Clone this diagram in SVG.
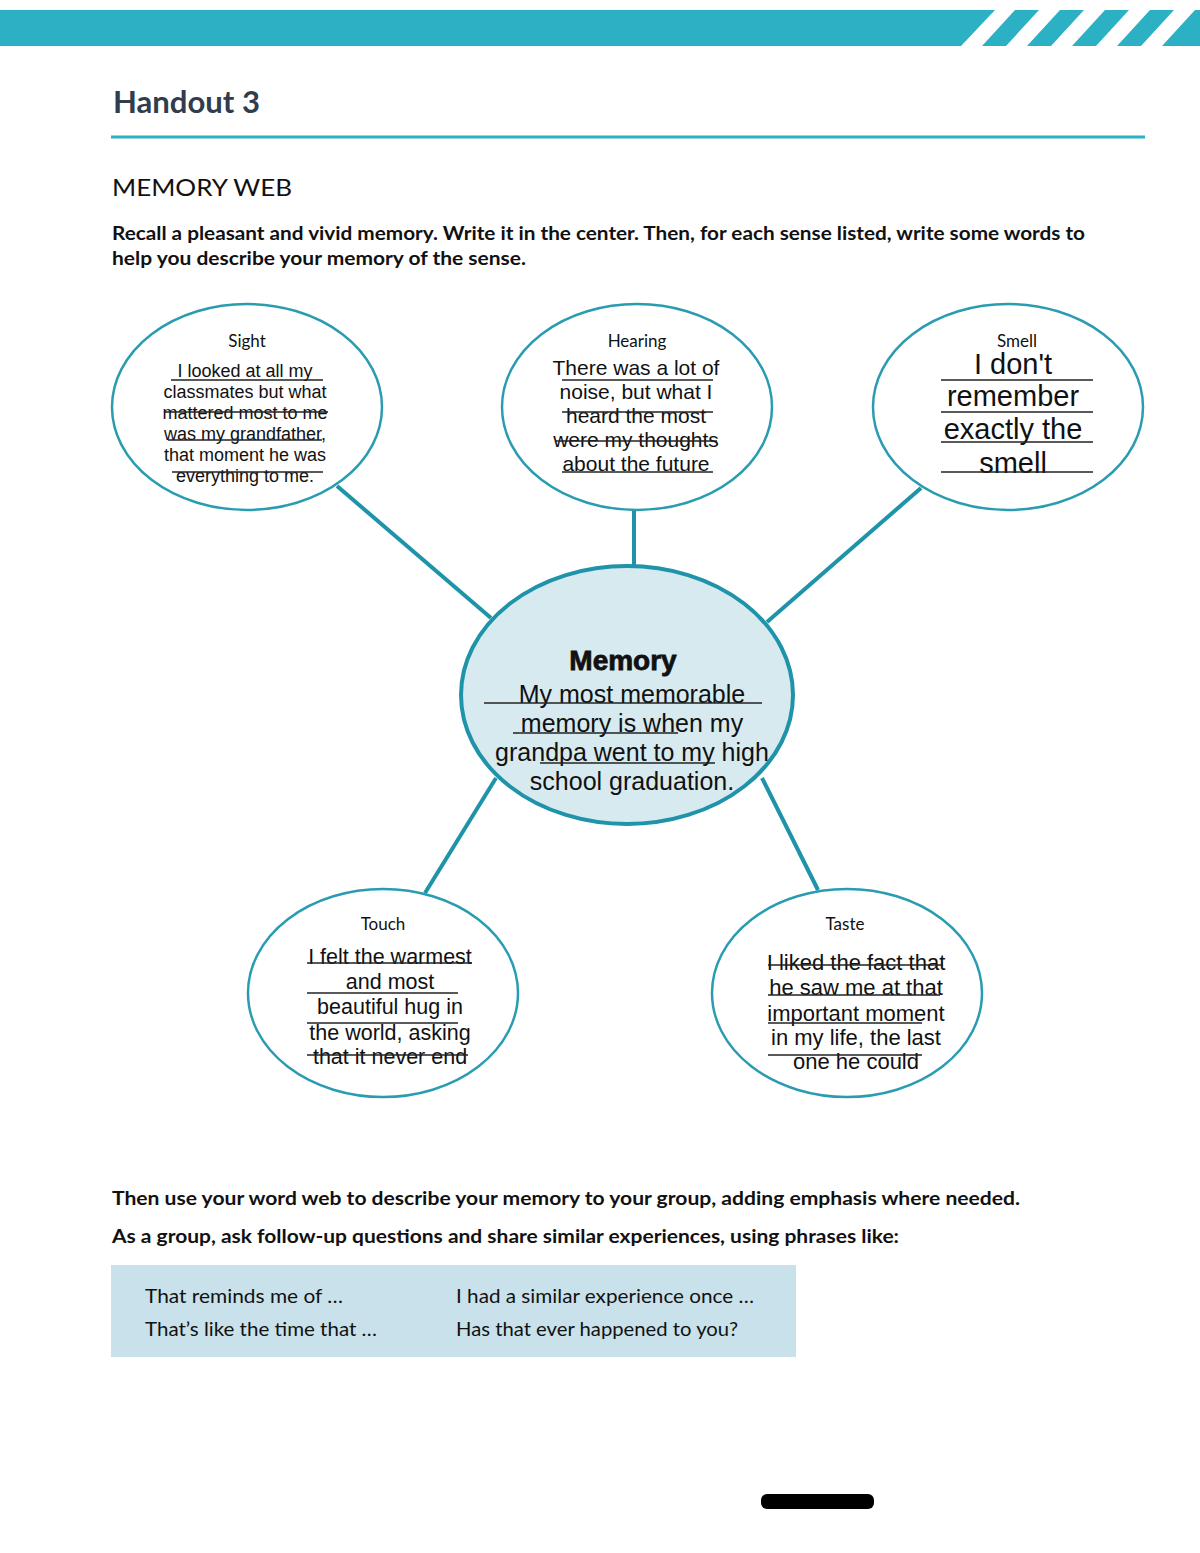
<svg xmlns="http://www.w3.org/2000/svg" width="1200" height="1553" viewBox="0 0 1200 1553">
<style>
.bar{fill:#2cb0c4}
.node{fill:#fff;stroke:#2a9cb1;stroke-width:2.5}
.center{fill:#d7eaf0;stroke:#1f93a9;stroke-width:4}
.conn{stroke:#1f93a9;stroke-width:4;fill:none}
.lbl{font-family:Lato,"Open Sans",sans-serif;font-size:17px;fill:#111;text-anchor:middle}
.body{font-family:"Liberation Sans",Arial,sans-serif;fill:#111;text-anchor:middle}
.rule{stroke:#222;stroke-width:1.3}
.hd{font-family:Lato,"Open Sans",sans-serif;fill:#111}
</style>
<rect width="1200" height="1553" fill="#fff"/>
<g id="header">
<polygon class="bar" points="0,10 995,10 961,46 0,46"/>
<polygon class="bar" points="1015,10 1039,10 1006,46 982,46"/>
<polygon class="bar" points="1060,10 1084,10 1051,46 1027,46"/>
<polygon class="bar" points="1105,10 1129,10 1096,46 1072,46"/>
<polygon class="bar" points="1150,10 1174,10 1141,46 1117,46"/>
<polygon class="bar" points="1195,10 1200,10 1200,46 1162,46"/>
<text x="113" y="113" font-family="Lato,'Open Sans',sans-serif" font-weight="700" font-size="31" fill="#2f3d4c" textLength="147" lengthAdjust="spacingAndGlyphs">Handout 3</text>
<rect x="111" y="135.5" width="1034" height="3" fill="#2cb0c4"/>
<text x="112" y="196" class="hd" font-size="24" fill="#222" textLength="180" lengthAdjust="spacingAndGlyphs">MEMORY WEB</text>
<text x="112" y="240" class="hd" font-size="19" font-weight="700" textLength="973" lengthAdjust="spacingAndGlyphs">Recall a pleasant and vivid memory. Write it in the center. Then, for each sense listed, write some words to</text>
<text x="112" y="265" class="hd" font-size="19" font-weight="700" textLength="414" lengthAdjust="spacingAndGlyphs">help you describe your memory of the sense.</text>
</g>
<g id="connectors">
<line class="conn" x1="337" y1="486" x2="491" y2="618"/>
<line class="conn" x1="634" y1="511" x2="634" y2="567"/>
<line class="conn" x1="921" y1="488" x2="767" y2="622"/>
<line class="conn" x1="425" y1="893" x2="496" y2="778"/>
<line class="conn" x1="818" y1="890" x2="762" y2="778"/>
</g>
<g id="sight">
<ellipse class="node" cx="247" cy="407" rx="135" ry="103"/>
<text class="lbl" x="247" y="347">Sight</text>
<g class="body" font-size="18">
<text x="245" y="377">I looked at all my</text>
<text x="245" y="398">classmates but what</text>
<text x="245" y="419">mattered most to me</text>
<text x="245" y="440">was my grandfather,</text>
<text x="245" y="461">that moment he was</text>
<text x="245" y="482">everything to me.</text>
</g>
<line class="rule" x1="171" y1="380" x2="323" y2="380"/>
<line class="rule" x1="165" y1="412" x2="328" y2="412"/>
<line class="rule" x1="168" y1="440" x2="322" y2="440"/>
<line class="rule" x1="172" y1="472" x2="323" y2="472"/>
</g>
<g id="hearing">
<ellipse class="node" cx="637" cy="407" rx="135" ry="103"/>
<text class="lbl" x="637" y="347">Hearing</text>
<g class="body" font-size="21">
<text x="636" y="375">There was a lot of</text>
<text x="636" y="399">noise, but what I</text>
<text x="636" y="423">heard the most</text>
<text x="636" y="447">were my thoughts</text>
<text x="636" y="471">about the future</text>
</g>
<line class="rule" x1="562" y1="380" x2="713" y2="380"/>
<line class="rule" x1="562" y1="412" x2="713" y2="412"/>
<line class="rule" x1="555" y1="441" x2="717" y2="441"/>
<line class="rule" x1="562" y1="472" x2="713" y2="472"/>
</g>
<g id="smell">
<ellipse class="node" cx="1008" cy="407" rx="135" ry="103"/>
<text class="lbl" x="1017" y="347">Smell</text>
<g class="body" font-size="29">
<text x="1013" y="374">I don't</text>
<text x="1013" y="406">remember</text>
<text x="1013" y="439">exactly the</text>
<text x="1013" y="473">smell</text>
</g>
<line class="rule" x1="941" y1="380" x2="1093" y2="380"/>
<line class="rule" x1="941" y1="412" x2="1093" y2="412" stroke="#888"/>
<line class="rule" x1="941" y1="442" x2="1093" y2="442"/>
<line class="rule" x1="941" y1="472" x2="1093" y2="472"/>
</g>
<g id="memory">
<ellipse class="center" cx="627" cy="695" rx="166" ry="129"/>
<text x="623" y="670" font-family="'Liberation Sans',Arial,sans-serif" font-weight="700" font-size="28" fill="#111" text-anchor="middle" stroke="#111" stroke-width="0.8">Memory</text>
<g class="body" font-size="25">
<text x="632" y="703">My most memorable</text>
<text x="632" y="732">memory is when my</text>
<text x="632" y="761">grandpa went to my high</text>
<text x="632" y="790">school graduation.</text>
</g>
<line class="rule" x1="484" y1="703" x2="762" y2="703"/>
<line class="rule" x1="513" y1="733" x2="678" y2="733"/>
<line class="rule" x1="540" y1="763" x2="715" y2="763"/>
</g>
<g id="touch">
<ellipse class="node" cx="383" cy="993" rx="135" ry="104"/>
<text class="lbl" x="383" y="930">Touch</text>
<g class="body" font-size="21.5">
<text x="390" y="964">I felt the warmest</text>
<text x="390" y="989">and most</text>
<text x="390" y="1014">beautiful hug in</text>
<text x="390" y="1040">the world, asking</text>
<text x="390" y="1064">that it never end</text>
</g>
<line class="rule" x1="307" y1="963" x2="472" y2="963"/>
<line class="rule" x1="307" y1="993" x2="458" y2="993"/>
<line class="rule" x1="307" y1="1023" x2="458" y2="1023"/>
<line class="rule" x1="307" y1="1055" x2="468" y2="1055"/>
</g>
<g id="taste">
<ellipse class="node" cx="847" cy="993" rx="135" ry="104"/>
<text class="lbl" x="845" y="930">Taste</text>
<g class="body" font-size="22">
<text x="856" y="970">I liked the fact that</text>
<text x="856" y="995">he saw me at that</text>
<text x="856" y="1021">important moment</text>
<text x="856" y="1045">in my life, the last</text>
<text x="856" y="1069">one he could</text>
</g>
<line class="rule" x1="768" y1="965" x2="943" y2="965"/>
<line class="rule" x1="768" y1="995" x2="940" y2="995"/>
<line class="rule" x1="768" y1="1023" x2="922" y2="1023"/>
<line class="rule" x1="768" y1="1055" x2="922" y2="1055"/>
</g>
<g id="footer">
<text x="112" y="1205" class="hd" font-size="19" font-weight="700" textLength="908" lengthAdjust="spacingAndGlyphs">Then use your word web to describe your memory to your group, adding emphasis where needed.</text>
<text x="112" y="1243" class="hd" font-size="19" font-weight="700" textLength="787" lengthAdjust="spacingAndGlyphs">As a group, ask follow-up questions and share similar experiences, using phrases like:</text>
<rect x="111" y="1265" width="685" height="92" fill="#c9e1ea"/>
<text x="145" y="1303" class="hd" font-size="19" textLength="198" lengthAdjust="spacingAndGlyphs">That reminds me of …</text>
<text x="145" y="1336" class="hd" font-size="19" textLength="232" lengthAdjust="spacingAndGlyphs">That’s like the time that …</text>
<text x="456" y="1303" class="hd" font-size="19" textLength="298" lengthAdjust="spacingAndGlyphs">I had a similar experience once …</text>
<text x="456" y="1336" class="hd" font-size="19" textLength="282" lengthAdjust="spacingAndGlyphs">Has that ever happened to you?</text>
<rect x="761" y="1494" width="113" height="15" rx="6" fill="#000"/>
</g>
</svg>
